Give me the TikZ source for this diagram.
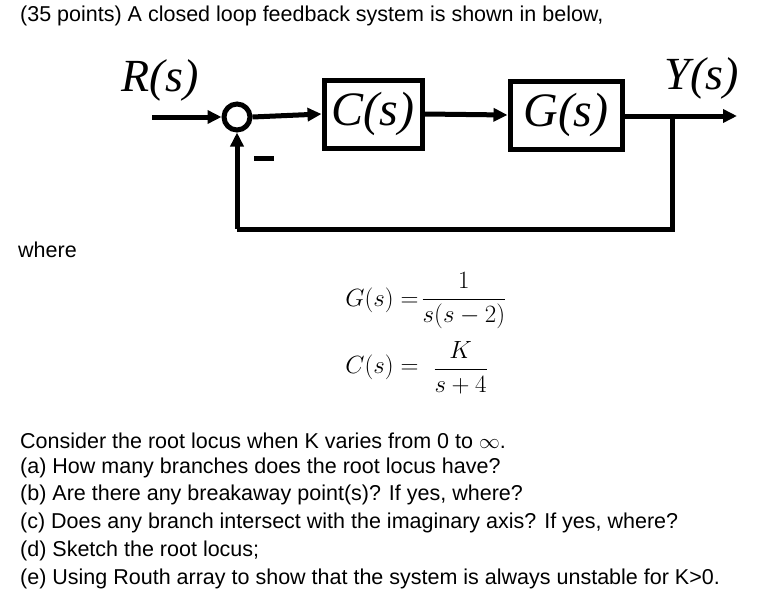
\documentclass[tikz,border=0pt]{standalone}
\usepackage{amsmath}
\usepackage{fontspec}
\setmainfont{Liberation Sans}
\newfontfamily\tms{Liberation Serif}
\usetikzlibrary{arrows.meta}
\begin{document}
\begin{tikzpicture}[x=1pt,y=-1pt,
  txt/.style={anchor=west,inner sep=0,font=\fontsize{21.5}{24}\selectfont},
  blk/.style={draw,line width=5pt,minimum width=100pt,minimum height=68pt,font=\fontsize{48}{52}\selectfont\tms\itshape},
  sig/.style={line width=5pt,-{Triangle[length=14pt,width=13pt]}},
  wire/.style={line width=5pt},
  lab/.style={font=\fontsize{46}{48}\selectfont\tms\itshape,inner sep=0},
  eq/.style={font=\fontsize{25}{28}\selectfont}]
\useasboundingbox (0,0) rectangle (760,594);
\node[txt] (t0) at (20,16) {(35 points) A closed loop feedback system is shown in below,};
\node[draw,circle,line width=5pt,minimum size=26pt,inner sep=0] (sum) at (237,117) {};
\node[blk,minimum width=98pt] (C) at (373,114) {C(s)};
\node[blk,minimum width=112pt] (G) at (566,115) {G(s)};
\coordinate (in) at (152,117);
\coordinate (out) at (737,116);
\coordinate (tap) at (672,116);
\coordinate (b1) at (672,229);
\coordinate (b2) at (237,229);
\draw[sig] (in) -- (sum.west);
\draw[sig] (sum.east) -- (C.west);
\draw[sig] (C.east) -- (G.west);
\draw[sig] (G.east |- out) -- (out);
\draw[wire] (tap) -- (b1) -- (b2);
\draw[sig] (b2) -- (sum.south);
\node[lab] (R) at (160,80) {R(s)};
\node[lab] (Y) at (702,78) {Y(s)};
\node[fill,minimum width=20pt,minimum height=5pt,inner sep=0] (minus) at (264,158) {};
\node[txt] (where) at (18,250) {where};
\node[eq,anchor=east] (Gl) at (422,300) {$G(s)=$};
\node[eq,anchor=west] (Gr) at (418,301) {$\dfrac{1}{s(s-2)}$};
\node[eq,anchor=east] (Cl) at (422,367) {$C(s)=$};
\node[eq,anchor=west] (Cr) at (430,368) {$\dfrac{K}{s+4}$};
\node[txt] (q0) at (20,441) {Consider the root locus when K varies from 0 to $\infty$.};
\node[txt] (qa) at (20,468) {(a) How many branches does the root locus have?};
\node[txt] (qb) at (20,495) {(b) Are there any breakaway point(s)? If yes, where?};
\node[txt] (qc) at (20,523) {(c) Does any branch intersect with the imaginary axis? If yes, where?};
\node[txt] (qd) at (20,551) {(d) Sketch the root locus;};
\node[txt] (qe) at (20,579) {(e) Using Routh array to show that the system is always unstable for K>0.};
\end{tikzpicture}
\end{document}
